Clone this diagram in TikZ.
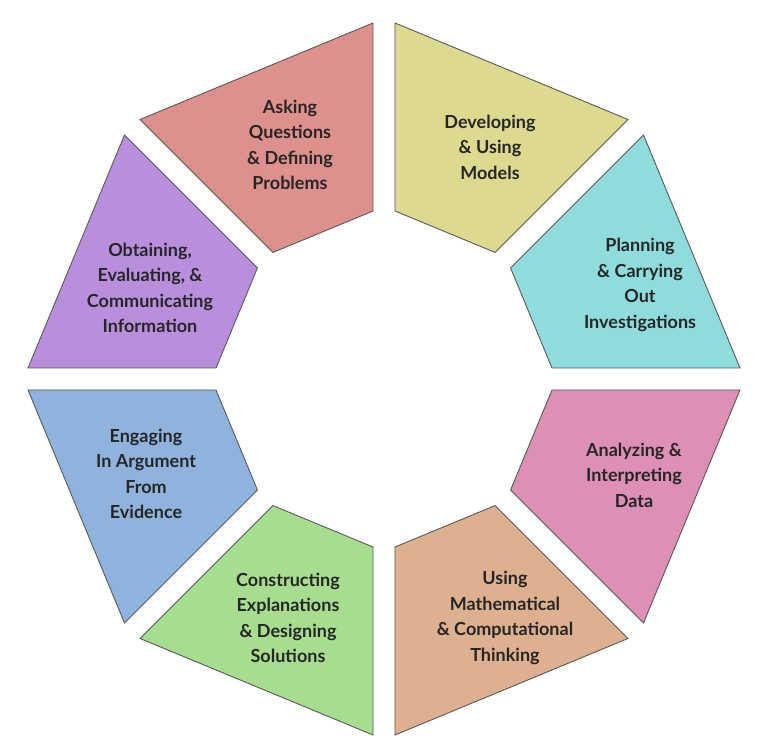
\documentclass[tikz,border=0pt]{standalone}
\usepackage{fontspec}
\setmainfont{Lato}
\usetikzlibrary{calc}
\definecolor{cA}{HTML}{DD908C}
\definecolor{cB}{HTML}{DDD98F}
\definecolor{cC}{HTML}{8FDCDC}
\definecolor{cD}{HTML}{DD8FB5}
\definecolor{cE}{HTML}{DDB08F}
\definecolor{cF}{HTML}{A7DD8F}
\definecolor{cG}{HTML}{90B3DD}
\definecolor{cH}{HTML}{B98FDD}
\tikzset{seg/.style={draw=black!65,line width=0.9pt,line join=miter},
lbl/.style={align=center,font=\fontsize{18}{25.5}\selectfont\bfseries,text=black!85}}
\newcommand{\sector}[2]{% start angle, colour
 \pgfmathsetmacro{\aa}{#1}\pgfmathsetmacro{\bb}{#1+45}
 \path[seg,fill=#2] ($(\aa:168pt)+(\aa+90:11pt)$) -- ($(\aa:356pt)+(\aa+90:11pt)$)
 -- ($(\bb:356pt)+(\bb-90:11pt)$) -- ($(\bb:168pt)+(\bb-90:11pt)$) -- cycle;}
\begin{document}
\begin{tikzpicture}[x=1pt,y=1pt]
\useasboundingbox (0,0) rectangle (768,755);
\begin{scope}[shift={(384,376)}]
\sector{90}{cA}
\sector{45}{cB}
\sector{0}{cC}
\sector{-45}{cD}
\sector{-90}{cE}
\sector{-135}{cF}
\sector{180}{cG}
\sector{135}{cH}
\end{scope}
\node[lbl] (a) at (290,610) {Asking\\Questions\\\& Defining\\Problems};
\node[lbl] (b) at (490,608) {Developing\\\& Using\\Models};
\node[lbl] (c) at (640,470) {Planning\\\& Carrying\\Out\\Investigations};
\node[lbl] (d) at (634,280) {Analyzing \&\\Interpreting\\Data};
\node[lbl] (e) at (505,137) {Using\\Mathematical\\\& Computational\\Thinking};
\node[lbl] (f) at (288,137) {Constructing\\Explanations\\\& Designing\\Solutions};
\node[lbl] (g) at (146,281) {Engaging\\In Argument\\From\\Evidence};
\node[lbl] (h) at (150,467) {Obtaining,\\Evaluating, \&\\Communicating\\Information};
\end{tikzpicture}
\end{document}
